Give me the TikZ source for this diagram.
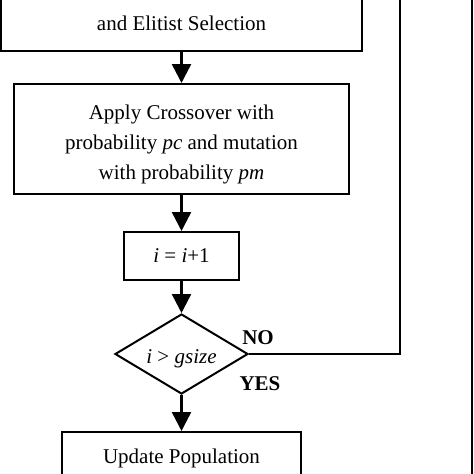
\documentclass[tikz,border=0pt]{standalone}
\usepackage{fontspec}
\setmainfont{Liberation Serif}
\usetikzlibrary{arrows.meta,shapes.geometric}
\begin{document}
\begin{tikzpicture}[x=1pt,y=-1pt,
    font=\fontsize{21}{30}\selectfont,
    blk/.style={draw,line width=2pt,inner sep=0pt,align=center},
    flow/.style={line width=2.5pt,-{Triangle[width=19pt,length=19pt]}}]
        %frame of the picture
        \useasboundingbox (0,0) rectangle (474,474);
        \clip (0,0) rectangle (474,474);

        %the boxes of the loop
        \node[blk,minimum width=361,minimum height=56] (sel) at (181.5,23) {and Elitist Selection};
        \node[blk,minimum width=335,minimum height=110] (cross) at (181.5,139)
            {\rule{0pt}{26pt}Apply Crossover with\\probability \textit{pc} and mutation\\with probability \textit{pm}};
        \node[blk,minimum width=115,minimum height=48] (incr) at (181.5,256) {\textit{i} = \textit{i}+1};
        \node[blk,diamond,aspect=1.66,minimum width=133,minimum height=80,text height=24pt] (test) at (181.5,354) {\textit{i} > \textit{gsize}};
        \node[blk,minimum width=239,minimum height=50,text height=18pt] (upd) at (181.5,457) {Update Population};

        %arrows down the loop
        \draw[flow] (sel.south) -- (cross.north);
        \draw[flow] (cross.south) -- (incr.north);
        \draw[flow] (incr.south) -- (test.north);
        \draw[flow] (test.south) -- (upd.north);

        %way back when the test fails
        \coordinate (back) at (400,-10);
        \draw[line width=2pt] (test.east) -| (back);
        \node[font=\fontsize{21}{30}\selectfont\bfseries] (no) at (258,338) {NO};
        \node[font=\fontsize{21}{30}\selectfont\bfseries] (yes) at (260,384) {YES};

        %edge of the next part
        \coordinate (rtop) at (472,-10);
        \coordinate (rbot) at (472,484);
        \draw[line width=2.5pt] (rtop) -- (rbot);
    \end{tikzpicture}
\end{document}
